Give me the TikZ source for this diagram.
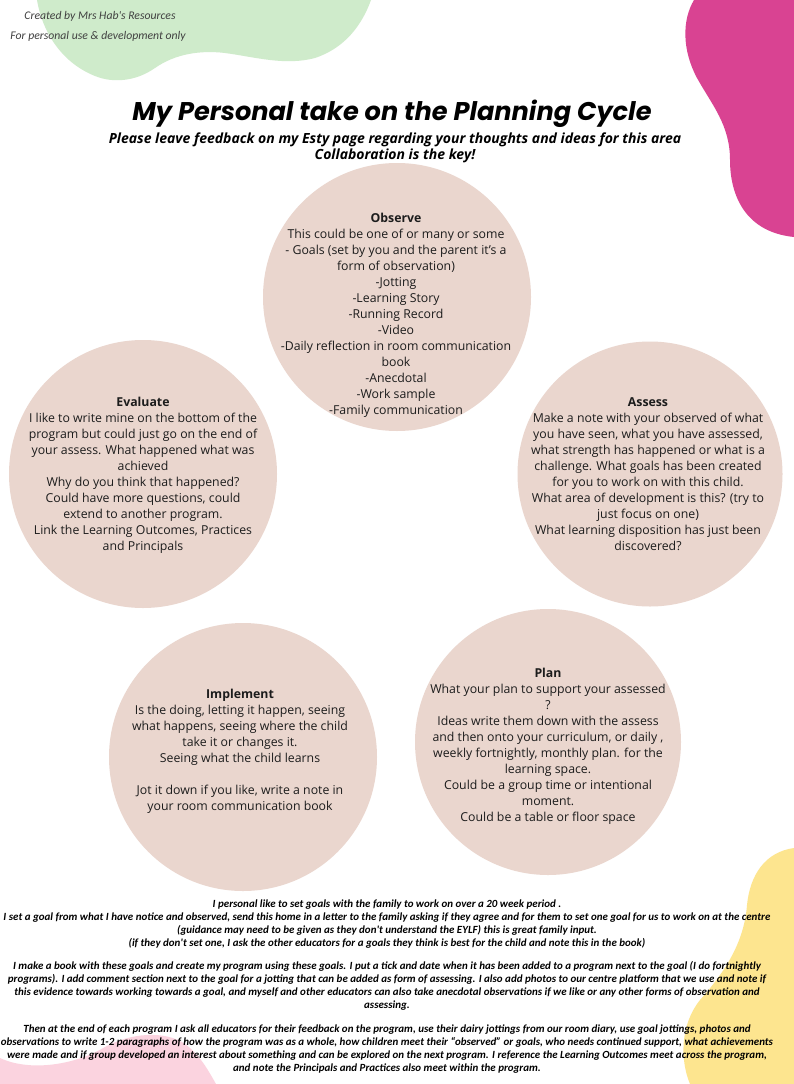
\documentclass[tikz,border=0pt]{standalone}
\usepackage{fontspec}
\setmainfont{Open Sans}
\newfontfamily\carl{Carlito}
\newfontfamily\pop{Poppins}
\definecolor{rosecirc}{HTML}{EAD6CE}
\definecolor{greenblob}{HTML}{CFEBCB}
\definecolor{magblob}{HTML}{D94392}
\definecolor{yelblob}{HTML}{FDE58F}
\definecolor{pinkblob}{HTML}{FBD3DF}
\definecolor{inkc}{HTML}{1C1C1C}
\tikzset{
 x=1pt,y=-1pt,
 circ/.style={circle,fill=rosecirc,inner sep=0pt,minimum size=#1},
 ctext/.style={align=center,inner sep=0pt,text=inkc,font=\fontsize{12.3}{16}\selectfont},
 note/.style={align=center,inner sep=0pt,text=black,font=\carl\bfseries\itshape\fontsize{10.95}{12.9}\selectfont},
 credit/.style={inner sep=0pt,text=black!75,font=\carl\itshape\fontsize{11.7}{14}\selectfont},
}
\begin{document}
\begin{tikzpicture}
\useasboundingbox (0,0) rectangle (794,1084);
\fill[white] (0,0) rectangle (794,1084);
% blobs
\fill[greenblob] (37,0) .. controls (42,30) and (60,62) .. (95,76) .. controls (112,83) and (135,82) .. (155,68) .. controls (175,54) and (200,50) .. (225,53) .. controls (255,57) and (285,66) .. (315,58) .. controls (345,48) and (362,25) .. (371,0) -- cycle;
\fill[magblob] (694,0) .. controls (682,20) and (682,50) .. (697,78) .. controls (712,105) and (730,125) .. (730,160) .. controls (730,195) and (745,232) .. (794,237) -- (794,0) -- cycle;
\fill[yelblob] (794,848) .. controls (765,852) and (750,875) .. (747,905) .. controls (744,945) and (722,975) .. (700,1000) .. controls (680,1025) and (680,1060) .. (690,1084) -- (794,1084) -- cycle;
\fill[pinkblob] (0,1058) .. controls (30,1072) and (75,1065) .. (105,1047) .. controls (130,1033) and (165,1030) .. (185,1044) .. controls (200,1055) and (208,1070) .. (216,1084) -- (0,1084) -- cycle;
% circles
\node[circ=268] (obs) at (397,297) {};
\node[circ=268] (eva) at (143,474) {};
\node[circ=265] (ass) at (650,474) {};
\node[circ=268] (imp) at (243,757) {};
\node[circ=266] (pla) at (548,742) {};
% credits
\node[credit] (cr1) at (100,16) {Created by Mrs Hab's Resources};
\node[credit] (cr2) at (98,36) {For personal use \& development only};
% title
\node[inner sep=0pt,font=\pop\bfseries\itshape\fontsize{25.6}{30}\selectfont] (title) at (392,114) {My Personal take on the Planning Cycle};
\node[align=center,inner sep=0pt,font=\bfseries\itshape\fontsize{14}{16.5}\selectfont] (sub) at (395,148) {Please leave feedback on my Esty page regarding  your thoughts and ideas for this area\\Collaboration is the key!};
% circle text
\node[ctext] (tobs) at (396,315) {\textbf{Observe}\\This could be one of or many or some\\- Goals (set by you and the parent it's a\\form of observation)\\-Jotting\\-Learning Story\\-Running Record\\-Video\\-Daily reflection in room communication\\book\\-Anecdotal\\-Work sample\\-Family communication};
\node[ctext] (teva) at (143,475) {\textbf{Evaluate}\\I like to write mine on the bottom of the\\program but could just go on the end of\\your assess. What happened what was\\achieved\\Why do you think that happened?\\Could have more questions, could\\extend to another program.\\Link the Learning Outcomes, Practices\\and Principals};
\node[ctext] (tass) at (648,474.5) {\textbf{Assess}\\Make a note with your observed of what\\you have seen, what you have assessed,\\what strength has happened or what is a\\challenge. What goals has been created\\for you to work on with this child.\\What area of development is this? (try to\\just focus on one)\\What learning disposition has just been\\discovered?};
\node[ctext] (timp) at (240,751.5) {\textbf{Implement}\\Is the doing, letting it happen, seeing\\what happens, seeing where the child\\take it or changes it.\\Seeing what the child learns\\\mbox{}\\Jot it down if you like, write a note in\\your room communication book};
\node[ctext] (tpla) at (548,746.5) {\textbf{Plan}\\What your plan to support your assessed\\?\\Ideas write them down with the assess\\and then onto your curriculum, or daily ,\\weekly fortnightly, monthly plan. for the\\learning space.\\Could be a group time or intentional\\moment.\\Could be a table or floor space};
% bottom notes
\node[note] (n1) at (387,924) {I personal like to set goals with the family to work on  over a 20 week period .\\I set a goal from what I have notice and observed, send this home in a letter to the family asking if they agree and for them to set one goal for us to work on at the centre\\(guidance may need to be given as they don't understand the EYLF) this is great family input.\\(if they don't set one, I ask the other educators for a goals they think is best for the child and note this in the book)};
\node[note] (n2) at (387,986) {I make a book with these goals and create my program using these goals. I put a tick and date when it has been added to a program next to the goal (I do fortnightly\\programs). I add comment section next to the goal for a jotting that can be added as form of assessing. I also add photos to our centre platform that we use and note if\\this evidence towards working towards a goal, and myself and other educators can also take anecdotal  observations if we like or any other forms of observation and\\assessing.};
\node[note] (n3) at (387,1049) {Then at the end of each program I ask all educators for their  feedback on the program, use their dairy jottings from our  room diary, use goal jottings, photos and\\observations to write 1-2 paragraphs of how the program was as a whole, how children meet their “observed” or goals, who needs continued support, what achievements\\were made and if group  developed an interest about something and can be explored on the next program. I reference the Learning Outcomes meet across the program,\\and note the Principals and Practices also meet within the program.};
\end{tikzpicture}
\end{document}
